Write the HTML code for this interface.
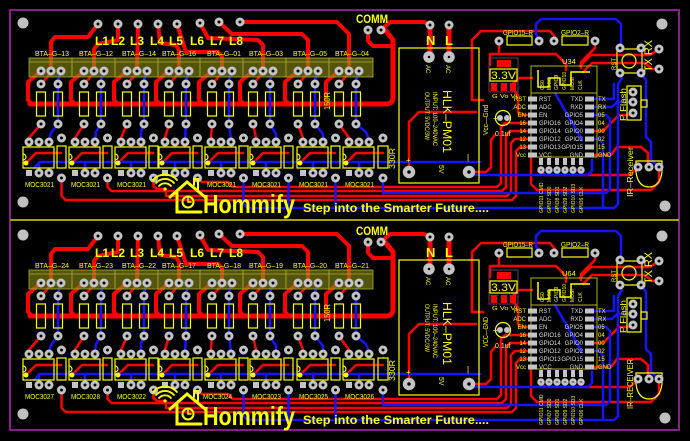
<!DOCTYPE html>
<html><head><meta charset="utf-8"><style>
html,body{margin:0;padding:0;background:#000;}
svg{display:block}
text{font-family:"Liberation Sans",sans-serif;fill:#ff0}
.p{fill:#000;stroke:#c4c4c4;stroke-width:3}
.P{fill:#000;stroke:#c4c4c4;stroke-width:4.5}
.y{fill:none;stroke:#ff0;stroke-width:1.2}
.w{fill:#ddd}
</style></head><body>
<svg width="690" height="441" viewBox="0 0 690 441" xmlns="http://www.w3.org/2000/svg">
<rect width="690" height="441" fill="#000"/>
<defs>
<g id="H">
 <!-- thick red -->
 <g fill="none" stroke="#f00" stroke-width="4" stroke-linejoin="round" stroke-linecap="round">
  <path d="M98,24 L88,37 L55,37 L51,42 L51,71"/>
  <path d="M118,24 L118,40 L98,44 L94,49 L94,71"/>
  <path d="M138,24 L137,71"/>
  <path d="M158,24 L160,43 L176,45 L179,50 L179,71"/>
  <path d="M177,24 L186,52 L218,52 L222,56 L222,71"/>
  <path d="M200,23 L208,38 L258,40 L263,45 L263,71"/>
  <path d="M219,22 L232,34 L302,34 L308,40 L308,71"/>
  <path d="M240,22 L337,22 L349,34 L349,71"/>
  <path d="M41,71 L28,82 L28,100 L32,104"/>
  <path d="M84,71 L71,82 L71,100 L75,104"/>
  <path d="M127,71 L114,82 L114,100 L118,104"/>
  <path d="M169,71 L156,82 L156,100 L160,104"/>
  <path d="M212,71 L199,82 L199,100 L203,104"/>
  <path d="M253,71 L240,82 L240,100 L244,104"/>
  <path d="M298,71 L285,82 L285,100 L289,104"/>
  <path d="M339,71 L326,82 L326,100 L330,104"/>
  <path d="M30,104 H386 Q393,104 393,97 V40 L386,31" stroke-width="5"/>
  <path d="M368,30 V41 L373,46 H393"/>
  <path d="M381,30 L390,22 H424 L430,25"/>
  <path d="M430,25 V57 M449,25 V57" stroke-width="5"/>
 </g>
 <!-- thin red -->
 <g fill="none" stroke="#f00" stroke-width="2.5" stroke-linejoin="round" stroke-linecap="round">
  <path d="M41,84 L50,74 M84,84 L93,74 M127,84 L136,74 M169,84 L178,74 M212,84 L221,74 M253,84 L262,74 M298,84 L307,74 M339,84 L348,74"/>
  <path d="M41,124 L29,138 M84,124 L75,138 M127,124 L121,138 M169,124 L165,138 M212,124 L211,138 M253,124 L256,138 M298,124 L303,138 M339,124 L349,138"/>
  <path d="M26,163 L36,153 H61 M72,163 L82,153 H107 M118,163 L128,153 H153 M162,163 L172,153 H197 M208,163 L218,153 H243 M253,163 L263,153 H288 M300,163 L310,153 H335 M346,163 L356,153 H383"/>
  <path d="M61.5,178 V196 L65.5,200 H512 L516,196 V151 L520,147 H528"/>
  <path d="M107.5,178 V187 L111.5,191 H502 L506,187 V135 L510,131 H528"/>
  <path d="M153.5,178 V186 L157,189 H166 V196 H507 L511,192 V143 L515,139 H528"/>
  <path d="M197.5,178 L202,182 H228 L233,187 H497 L501,183 V127 L505,123 H528"/>
  <path d="M469,172 H486 L491,167 V140 L495,135"/>
  <path d="M409,172 V122 L419,112 H476"/>
  <path d="M483,100 H472 V40 L481,31 H550 L555,37"/>
  <path d="M490,65 V54 H556 L566,64 V70"/>
  <path d="M499,41 V54"/>
  <path d="M595,41 V48 L581,62 V68"/>
  <path d="M513,84 L519,78 H532"/>
  <path d="M528,115 H521 L518,112 V95 L513,90"/>
  <path d="M580,66 L591,55 H650 L659,49"/>
  <path d="M583,72 L592,63 H645 L652,69 H659"/>
  <path d="M594,155 H611 L617,147 H641 L648,153 V167"/>
  <path d="M659,167 V182 L651,190 H537 L531,184 V157"/>
  <path d="M638,167 L630,175 H545 L541,171"/>
  <path d="M594,131 H603 L619,115 H632"/>
 </g>
 <!-- blue -->
 <g fill="none" stroke="#1414ff" stroke-width="2.5" stroke-linejoin="round" stroke-linecap="round">
  <path d="M61,71 L58,80 V124 L51,133 L49,140"/>
  <path d="M104,71 L101,80 V124 L96,132 L95,140"/>
  <path d="M147,71 L144,80 V124 L141,132 V140"/>
  <path d="M189,71 L186,80 V124 L185,140"/>
  <path d="M232,71 L229,80 V124 L231,140"/>
  <path d="M273,71 L270,80 V124 L276,134 V140"/>
  <path d="M318,71 L315,80 V124 L323,134 V140"/>
  <path d="M359,71 L356,80 V124 L366,132 L369,140"/>
  <path d="M34,168 L40,162 H480"/>
  <path d="M39,162 V170 M85,162 V170 M131,162 V170 M175,162 V170 M221,162 V170 M266,162 V170 M313,162 V170 M359,162 V170"/>
  <path d="M243.5,178 V204 L247.5,208 H614 L618,204 V84 L622,78"/>
  <path d="M288.5,178 V208 M335.5,178 V208"/>
  <path d="M383,178 V193"/>
  <path d="M469,172 L474,175 H588 L592,171 V160"/>
  <path d="M594,99 H614 V84"/>
  <path d="M594,107 H612 L617,102 H632"/>
  <path d="M594,115 H606 L610,119 V189 L606,193 H383"/>
  <path d="M594,139 H599 L603,143 V208"/>
  <path d="M539,41 L536,34 V24 L541,19 H616 L621,24 V44"/>
  <path d="M641,73 L646,80 V137 L651,142 V160 L659,167"/>
  <path d="M555,93 L582,140"/>
 </g>
 <!-- triac olive bodies -->
 <g fill="#8c8c14" fill-opacity="0.6" stroke="#a8a830" stroke-width="0.8">
  <rect x="29" y="58" width="43" height="19"/><rect x="72" y="58" width="43" height="19"/>
  <rect x="115" y="58" width="43" height="19"/><rect x="158" y="58" width="42" height="19"/>
  <rect x="200" y="58" width="43" height="19"/><rect x="243" y="58" width="43" height="19"/>
  <rect x="286" y="58" width="43" height="19"/><rect x="329" y="58" width="44" height="19"/>
 </g>
 <path d="M29,62 H373" stroke="#a8a830" stroke-width="0.8"/>
 <!-- yellow outlines -->
 <g class="y">
  <rect x="36.5" y="92" width="9" height="24"/><rect x="53.5" y="92" width="9" height="24"/>
  <rect x="79.5" y="92" width="9" height="24"/><rect x="96.5" y="92" width="9" height="24"/>
  <rect x="122.5" y="92" width="9" height="24"/><rect x="139.5" y="92" width="9" height="24"/>
  <rect x="164.5" y="92" width="9" height="24"/><rect x="181.5" y="92" width="9" height="24"/>
  <rect x="207.5" y="92" width="9" height="24"/><rect x="224.5" y="92" width="9" height="24"/>
  <rect x="248.5" y="92" width="9" height="24"/><rect x="265.5" y="92" width="9" height="24"/>
  <rect x="293.5" y="92" width="9" height="24"/><rect x="310.5" y="92" width="9" height="24"/>
  <rect x="334.5" y="92" width="9" height="24"/><rect x="351.5" y="92" width="9" height="24"/>
  <rect x="23" y="147" width="31" height="21"/><rect x="69" y="147" width="31" height="21"/>
  <rect x="115" y="147" width="31" height="21"/><rect x="159" y="147" width="31" height="21"/>
  <rect x="205" y="147" width="31" height="21"/><rect x="250" y="147" width="31" height="21"/>
  <rect x="297" y="147" width="31" height="21"/><rect x="343" y="147" width="31" height="21"/>
  <path d="M23,154 a3,3 0 0 1 0,6 M69,154 a3,3 0 0 1 0,6 M115,154 a3,3 0 0 1 0,6 M159,154 a3,3 0 0 1 0,6 M205,154 a3,3 0 0 1 0,6 M250,154 a3,3 0 0 1 0,6 M297,154 a3,3 0 0 1 0,6 M343,154 a3,3 0 0 1 0,6"/>
  <rect x="57" y="146" width="9" height="22"/><rect x="103" y="146" width="9" height="22"/>
  <rect x="149" y="146" width="9" height="22"/><rect x="193" y="146" width="9" height="22"/>
  <rect x="239" y="146" width="9" height="22"/><rect x="284" y="146" width="9" height="22"/>
  <rect x="331" y="146" width="9" height="22"/><rect x="378" y="146" width="10" height="22"/>
  <rect x="399" y="48" width="80" height="135"/>
  <rect x="507" y="36" width="25" height="9"/><rect x="562" y="36" width="26" height="9"/>
  <rect x="490" y="69" width="27" height="12"/>
  <circle cx="503" cy="118" r="7.5"/>
  <rect x="617" y="49" width="25" height="24"/><circle cx="629" cy="61" r="7"/>
  <rect x="627" y="86" width="14" height="34"/><rect x="641" y="100" width="6" height="7"/>
  <path d="M636,161 H662 V172 Q660,187 649,187 Q638,187 636,172 Z"/>
  <path d="M538,70 V87 H549 V78 H560 V85 H571 V72 H590" stroke-width="1.5"/>
 </g>
 <g fill="none" stroke="#b4b400" stroke-width="1">
  <rect x="531" y="66" width="66" height="91"/><path d="M531,93 H597"/>
 </g>
 <rect x="489" y="58" width="29" height="34" fill="none" stroke="#6a3a6a" stroke-width="1"/>
 <rect x="497" y="60" width="14" height="7" fill="#f00"/>
 <rect x="491" y="83" width="6" height="8" fill="#f00"/><rect x="501" y="83" width="6" height="8" fill="#f00"/><rect x="510" y="83" width="6" height="8" fill="#f00"/>
 <g fill="#ff0">
  <circle cx="26" cy="163" r="2.5"/><circle cx="72" cy="163" r="2.5"/><circle cx="118" cy="163" r="2.5"/><circle cx="162" cy="163" r="2.5"/>
  <circle cx="208" cy="163" r="2.5"/><circle cx="253" cy="163" r="2.5"/><circle cx="300" cy="163" r="2.5"/><circle cx="346" cy="163" r="2.5"/>
 </g>
 <!-- mounting holes -->
 <g fill="#c0c0c0">
  <circle cx="23" cy="23" r="5.5"/><circle cx="23" cy="202" r="5.5"/><circle cx="662" cy="24" r="5.5"/><circle cx="665" cy="206" r="5.5"/>
 </g>
 <!-- pads -->
 <g class="p">
  <circle cx="98" cy="24" r="3"/><circle cx="118" cy="24" r="3"/><circle cx="138" cy="24" r="3"/><circle cx="158" cy="24" r="3"/>
  <circle cx="177" cy="24" r="3"/><circle cx="200" cy="23" r="3"/><circle cx="219" cy="22" r="3"/><circle cx="240" cy="22" r="3"/>
  <circle cx="368" cy="30" r="3"/><circle cx="381" cy="30" r="3"/><circle cx="430" cy="25" r="3"/><circle cx="449" cy="25" r="3"/>
  <circle cx="41" cy="71" r="3"/><circle cx="51" cy="71" r="3"/><circle cx="61" cy="71" r="3"/>
  <circle cx="84" cy="71" r="3"/><circle cx="94" cy="71" r="3"/><circle cx="104" cy="71" r="3"/>
  <circle cx="127" cy="71" r="3"/><circle cx="137" cy="71" r="3"/><circle cx="147" cy="71" r="3"/>
  <circle cx="169" cy="71" r="3"/><circle cx="179" cy="71" r="3"/><circle cx="189" cy="71" r="3"/>
  <circle cx="212" cy="71" r="3"/><circle cx="222" cy="71" r="3"/><circle cx="232" cy="71" r="3"/>
  <circle cx="253" cy="71" r="3"/><circle cx="263" cy="71" r="3"/><circle cx="273" cy="71" r="3"/>
  <circle cx="298" cy="71" r="3"/><circle cx="308" cy="71" r="3"/><circle cx="318" cy="71" r="3"/>
  <circle cx="339" cy="71" r="3"/><circle cx="349" cy="71" r="3"/><circle cx="359" cy="71" r="3"/>
  <circle cx="41" cy="84" r="3"/><circle cx="58" cy="84" r="3"/><circle cx="41" cy="124" r="3"/><circle cx="58" cy="124" r="3"/>
  <circle cx="84" cy="84" r="3"/><circle cx="101" cy="84" r="3"/><circle cx="84" cy="124" r="3"/><circle cx="101" cy="124" r="3"/>
  <circle cx="127" cy="84" r="3"/><circle cx="144" cy="84" r="3"/><circle cx="127" cy="124" r="3"/><circle cx="144" cy="124" r="3"/>
  <circle cx="169" cy="84" r="3"/><circle cx="186" cy="84" r="3"/><circle cx="169" cy="124" r="3"/><circle cx="186" cy="124" r="3"/>
  <circle cx="212" cy="84" r="3"/><circle cx="229" cy="84" r="3"/><circle cx="212" cy="124" r="3"/><circle cx="229" cy="124" r="3"/>
  <circle cx="253" cy="84" r="3"/><circle cx="270" cy="84" r="3"/><circle cx="253" cy="124" r="3"/><circle cx="270" cy="124" r="3"/>
  <circle cx="298" cy="84" r="3"/><circle cx="315" cy="84" r="3"/><circle cx="298" cy="124" r="3"/><circle cx="315" cy="124" r="3"/>
  <circle cx="339" cy="84" r="3"/><circle cx="356" cy="84" r="3"/><circle cx="339" cy="124" r="3"/><circle cx="356" cy="124" r="3"/>
  <circle cx="29" cy="142" r="3"/><circle cx="39" cy="142" r="3"/><circle cx="49" cy="142" r="3"/><circle cx="39" cy="173" r="3"/><circle cx="49" cy="173" r="3"/>
  <circle cx="75" cy="142" r="3"/><circle cx="85" cy="142" r="3"/><circle cx="95" cy="142" r="3"/><circle cx="85" cy="173" r="3"/><circle cx="95" cy="173" r="3"/>
  <circle cx="121" cy="142" r="3"/><circle cx="131" cy="142" r="3"/><circle cx="141" cy="142" r="3"/><circle cx="131" cy="173" r="3"/><circle cx="141" cy="173" r="3"/>
  <circle cx="165" cy="142" r="3"/><circle cx="175" cy="142" r="3"/><circle cx="185" cy="142" r="3"/><circle cx="175" cy="173" r="3"/><circle cx="185" cy="173" r="3"/>
  <circle cx="211" cy="142" r="3"/><circle cx="221" cy="142" r="3"/><circle cx="231" cy="142" r="3"/><circle cx="221" cy="173" r="3"/><circle cx="231" cy="173" r="3"/>
  <circle cx="256" cy="142" r="3"/><circle cx="266" cy="142" r="3"/><circle cx="276" cy="142" r="3"/><circle cx="266" cy="173" r="3"/><circle cx="276" cy="173" r="3"/>
  <circle cx="303" cy="142" r="3"/><circle cx="313" cy="142" r="3"/><circle cx="323" cy="142" r="3"/><circle cx="313" cy="173" r="3"/><circle cx="323" cy="173" r="3"/>
  <circle cx="349" cy="142" r="3"/><circle cx="359" cy="142" r="3"/><circle cx="369" cy="142" r="3"/><circle cx="359" cy="173" r="3"/><circle cx="369" cy="173" r="3"/>
  <circle cx="61.5" cy="138" r="3"/><circle cx="61.5" cy="178" r="3"/><circle cx="107.5" cy="138" r="3"/><circle cx="107.5" cy="178" r="3"/>
  <circle cx="153.5" cy="138" r="3"/><circle cx="153.5" cy="178" r="3"/><circle cx="197.5" cy="138" r="3"/><circle cx="197.5" cy="178" r="3"/>
  <circle cx="243.5" cy="138" r="3"/><circle cx="243.5" cy="178" r="3"/><circle cx="288.5" cy="138" r="3"/><circle cx="288.5" cy="178" r="3"/>
  <circle cx="335.5" cy="138" r="3"/><circle cx="335.5" cy="178" r="3"/><circle cx="383" cy="138" r="3"/><circle cx="383" cy="178" r="3"/>
  <circle cx="499" cy="41" r="3"/><circle cx="539" cy="41" r="3"/><circle cx="554" cy="41" r="3"/><circle cx="595" cy="41" r="3"/>
  <circle cx="620" cy="48" r="3"/><circle cx="641" cy="48" r="3"/><circle cx="620" cy="73" r="3"/><circle cx="641" cy="73" r="3"/>
  <circle cx="659" cy="49" r="3"/><circle cx="659" cy="69" r="3"/>
  <circle cx="633" cy="92" r="3"/><circle cx="633" cy="102" r="3"/><circle cx="633" cy="113" r="3"/>
  <circle cx="638" cy="167" r="3"/><circle cx="649" cy="167" r="3"/><circle cx="659" cy="167" r="3"/>
  <circle cx="541" cy="170" r="2.2"/><circle cx="549" cy="170" r="2.2"/><circle cx="557" cy="170" r="2.2"/><circle cx="565" cy="170" r="2.2"/><circle cx="573" cy="170" r="2.2"/><circle cx="581" cy="170" r="2.2"/>
  <circle cx="500" cy="118" r="1.5"/><circle cx="507" cy="118" r="1.5"/>
 </g>
 <g class="P">
  <circle cx="429" cy="57" r="3.5"/><circle cx="449" cy="57" r="3.5"/><circle cx="409" cy="172" r="4"/><circle cx="469" cy="172" r="4"/>
 </g>
 <g fill="#c4c4c4">
  <rect x="26" y="170" width="6" height="6"/><rect x="72" y="170" width="6" height="6"/><rect x="118" y="170" width="6" height="6"/><rect x="162" y="170" width="6" height="6"/>
  <rect x="208" y="170" width="6" height="6"/><rect x="253" y="170" width="6" height="6"/><rect x="300" y="170" width="6" height="6"/><rect x="346" y="170" width="6" height="6"/>
  <rect x="528" y="96.5" width="9" height="5"/><rect x="528" y="104.5" width="9" height="5"/><rect x="528" y="112.5" width="9" height="5"/><rect x="528" y="120.5" width="9" height="5"/>
  <rect x="528" y="128.5" width="9" height="5"/><rect x="528" y="136.5" width="9" height="5"/><rect x="528" y="144.5" width="9" height="5"/><rect x="528" y="152.5" width="9" height="5"/>
  <rect x="585" y="96.5" width="9" height="5"/><rect x="585" y="104.5" width="9" height="5"/><rect x="585" y="112.5" width="9" height="5"/><rect x="585" y="120.5" width="9" height="5"/>
  <rect x="585" y="128.5" width="9" height="5"/><rect x="585" y="136.5" width="9" height="5"/><rect x="585" y="144.5" width="9" height="5"/><rect x="585" y="152.5" width="9" height="5"/>
  <rect x="539" y="158" width="4" height="7"/><rect x="547" y="158" width="4" height="7"/><rect x="555" y="158" width="4" height="7"/>
  <rect x="563" y="158" width="4" height="7"/><rect x="571" y="158" width="4" height="7"/><rect x="579" y="158" width="4" height="7"/>
 </g>
 <!-- logo -->
 <g fill="none" stroke="#ff0" stroke-linecap="round">
  <path d="M159,186 A8,8 0 0 1 171,186 M156,183 A12,12 0 0 1 174,183 M153,180 A16,16 0 0 1 177,180" stroke-width="1.8"/>
  <path d="M170,197 L187,182 L205,197" stroke-width="3"/>
  <path d="M177,193 V212 H201" stroke-width="3"/>
  <path d="M194,185 V179 H198 V189" stroke-width="2"/>
  <circle cx="188" cy="202" r="5.5" stroke-width="2"/>
  <path d="M188,198 V202 H191" stroke-width="1.5"/>
 </g>
 <circle cx="165" cy="189" r="1.6" fill="#ff0"/>
</g>
</defs>

<use href="#H"/>
<use href="#H" transform="translate(0,212)"/>

<!-- border & divider -->
<rect x="10" y="10" width="669" height="420" fill="none" stroke="#8b1c8b" stroke-width="2"/>
<path d="M10,220 H679" stroke="#a0a000" stroke-width="2"/>

<!-- TOP TEXT -->
<g>
 <text x="356" y="23" font-size="12" font-weight="bold" textLength="32" lengthAdjust="spacingAndGlyphs">COMM</text>
 <g font-size="12" font-weight="bold">
  <text x="95" y="45">L1</text><text x="111" y="45">L2</text><text x="130" y="45">L3</text><text x="150" y="45">L4</text>
  <text x="169" y="45">L5</text><text x="190" y="45">L6</text><text x="210" y="45">L7</text><text x="229" y="45">L8</text>
 </g>
 <g font-size="7" fill="#e8e800">
  <text x="35" y="56" textLength="34" lengthAdjust="spacingAndGlyphs">BTA–G–13</text>
  <text x="79" y="56" textLength="34" lengthAdjust="spacingAndGlyphs">BTA–G–12</text>
  <text x="122" y="56" textLength="34" lengthAdjust="spacingAndGlyphs">BTA–G–14</text>
  <text x="162" y="56" textLength="34" lengthAdjust="spacingAndGlyphs">BTA–G–16</text>
  <text x="207" y="56" textLength="34" lengthAdjust="spacingAndGlyphs">BTA–G–01</text>
  <text x="249" y="56" textLength="34" lengthAdjust="spacingAndGlyphs">BTA–G–03</text>
  <text x="293" y="56" textLength="34" lengthAdjust="spacingAndGlyphs">BTA–G–05</text>
  <text x="335" y="56" textLength="34" lengthAdjust="spacingAndGlyphs">BTA–G–04</text>
 </g>
 <g font-size="7">
  <text x="25" y="187" textLength="29" lengthAdjust="spacingAndGlyphs">MOC3021</text>
  <text x="71" y="187" textLength="29" lengthAdjust="spacingAndGlyphs">MOC3021</text>
  <text x="117" y="187" textLength="29" lengthAdjust="spacingAndGlyphs">MOC3021</text>
  <text x="207" y="187" textLength="29" lengthAdjust="spacingAndGlyphs">MOC3021</text>
  <text x="252" y="187" textLength="29" lengthAdjust="spacingAndGlyphs">MOC3021</text>
  <text x="299" y="187" textLength="29" lengthAdjust="spacingAndGlyphs">MOC3021</text>
  <text x="345" y="187" textLength="29" lengthAdjust="spacingAndGlyphs">MOC3021</text>
 </g>
 <text font-size="8" transform="translate(330,110) rotate(-90)" textLength="18" lengthAdjust="spacingAndGlyphs">150R</text>
 <text font-size="8" transform="translate(395,169) rotate(-90)" textLength="21" lengthAdjust="spacingAndGlyphs">330R</text>
 <text x="426" y="45" font-size="13" font-weight="bold">N</text>
 <text x="445" y="45" font-size="13" font-weight="bold">L</text>
 <text font-size="6" transform="translate(426,65) rotate(90)">AC</text>
 <text font-size="6" transform="translate(446,65) rotate(90)">AC</text>
 <text font-size="12" transform="translate(443,90) rotate(90)" textLength="63" lengthAdjust="spacingAndGlyphs">HLK–PM01</text>
 <text font-size="6" transform="translate(433,92) rotate(90)" textLength="54" lengthAdjust="spacingAndGlyphs">INPUT: 100–240VAC</text>
 <text font-size="6" transform="translate(425,92) rotate(90)" textLength="48" lengthAdjust="spacingAndGlyphs">OUTPUT: 5VDC/3W</text>
 <text font-size="7" transform="translate(439,165) rotate(90)">5V</text>
 <text x="406" y="163" font-size="8">+</text>
 <text x="467" y="160" font-size="8">|</text>
 <text x="503" y="35" font-size="7" textLength="30" lengthAdjust="spacingAndGlyphs">GPIO15–R</text>
 <text x="561" y="35" font-size="7" textLength="28" lengthAdjust="spacingAndGlyphs">GPIO2–R</text>
 <text x="491" y="79" font-size="11" textLength="25" lengthAdjust="spacingAndGlyphs">3.3V</text>
 <text x="492" y="98" font-size="5.5" textLength="25" lengthAdjust="spacingAndGlyphs">G Vo Vi</text>
 <text x="493" y="121" font-size="8">+</text>
 <text x="495" y="136" font-size="7">0.1uf</text>
 <text font-size="7" transform="translate(488,135) rotate(-90)" textLength="30" lengthAdjust="spacingAndGlyphs">Vcc—Gnd</text>
 <text x="562" y="64" font-size="7.5">U34</text>
 <g font-size="5">
  <text transform="translate(544,90) rotate(-90)">CS0</text><text transform="translate(551,90) rotate(-90)">MISO</text>
  <text transform="translate(558,90) rotate(-90)">GPIO9</text><text transform="translate(566,90) rotate(-90)">GPIO10</text>
  <text transform="translate(574,90) rotate(-90)">MOSI</text><text transform="translate(582,90) rotate(-90)">CLK</text>
  <text transform="translate(543,213) rotate(-90)">GPIO11 CMD</text><text transform="translate(551,213) rotate(-90)">GPIO7 SD0</text>
  <text transform="translate(559,213) rotate(-90)">GPIO8 SD1</text><text transform="translate(567,213) rotate(-90)">GPIO9 SD2</text>
  <text transform="translate(575,213) rotate(-90)">GPIO10 SD3</text><text transform="translate(583,213) rotate(-90)">GPIO6 CLK</text>
 </g>
 <g font-size="6">
  <text class="w" x="539" y="101">RST</text><text class="w" x="539" y="109">ADC</text><text class="w" x="539" y="117">EN</text><text class="w" x="539" y="125">GPIO16</text>
  <text class="w" x="539" y="133">GPIO14</text><text class="w" x="539" y="141">GPIO12</text><text class="w" x="539" y="149">GPIO13</text><text class="w" x="539" y="157">VCC</text>
 </g>
 <g font-size="6" text-anchor="end">
  <text class="w" x="583" y="101">TXD</text><text class="w" x="583" y="109">RXD</text><text class="w" x="583" y="117">GPIO5</text><text class="w" x="583" y="125">GPIO4</text>
  <text class="w" x="583" y="133">GPIO0</text><text class="w" x="583" y="141">GPIO2</text><text class="w" x="583" y="149">GPIO15</text><text class="w" x="583" y="157">GND</text>
  <text x="526" y="101">RST</text><text x="526" y="109">ADC</text><text x="526" y="117">EN</text><text x="526" y="125">16</text>
  <text x="526" y="133">14</text><text x="526" y="141">12</text><text x="526" y="149">13</text><text x="526" y="157">Vcc</text>
 </g>
 <g font-size="6">
  <text x="598" y="101">TX</text><text x="598" y="109">RX</text><text x="598" y="117">05</text><text x="598" y="125">04</text>
  <text x="598" y="133">00</text><text x="598" y="141">02</text><text x="598" y="149">15</text><text x="598" y="157">GND</text>
 </g>
 <text font-size="6" transform="translate(616,70) rotate(-90)">RST</text>
 <text font-size="11" transform="translate(652,72) rotate(-90)" textLength="32" lengthAdjust="spacingAndGlyphs">TX RX</text>
 <text font-size="8" transform="translate(626,121) rotate(-90)" textLength="33" lengthAdjust="spacingAndGlyphs">P Flash</text>
 <text font-size="8" transform="translate(633,197) rotate(-90)" textLength="50" lengthAdjust="spacingAndGlyphs">IR–Receiver</text>
 <text x="203" y="213" font-size="26" font-weight="bold" textLength="92" lengthAdjust="spacingAndGlyphs">Hommify</text>
 <text x="303" y="212" font-size="12" font-weight="bold" textLength="186" lengthAdjust="spacingAndGlyphs">Step into the Smarter Future....</text>
</g>

<!-- BOTTOM TEXT -->
<g transform="translate(0,212)">
 <text x="356" y="23" font-size="12" font-weight="bold" textLength="32" lengthAdjust="spacingAndGlyphs">COMM</text>
 <g font-size="12" font-weight="bold">
  <text x="95" y="45">L1</text><text x="111" y="45">L2</text><text x="130" y="45">L3</text><text x="150" y="45">L4</text>
  <text x="169" y="45">L5</text><text x="190" y="45">L6</text><text x="210" y="45">L7</text><text x="229" y="45">L8</text>
 </g>
 <g font-size="7" fill="#e8e800">
  <text x="35" y="56" textLength="34" lengthAdjust="spacingAndGlyphs">BTA–G–24</text>
  <text x="79" y="56" textLength="34" lengthAdjust="spacingAndGlyphs">BTA–G–23</text>
  <text x="122" y="56" textLength="34" lengthAdjust="spacingAndGlyphs">BTA–G–22</text>
  <text x="162" y="56" textLength="34" lengthAdjust="spacingAndGlyphs">BTA–G–17</text>
  <text x="207" y="56" textLength="34" lengthAdjust="spacingAndGlyphs">BTA–G–18</text>
  <text x="249" y="56" textLength="34" lengthAdjust="spacingAndGlyphs">BTA–G–19</text>
  <text x="293" y="56" textLength="34" lengthAdjust="spacingAndGlyphs">BTA–G–20</text>
  <text x="335" y="56" textLength="34" lengthAdjust="spacingAndGlyphs">BTA–G–21</text>
 </g>
 <g font-size="7">
  <text x="25" y="187" textLength="29" lengthAdjust="spacingAndGlyphs">MOC3027</text>
  <text x="71" y="187" textLength="29" lengthAdjust="spacingAndGlyphs">MOC3028</text>
  <text x="117" y="187" textLength="29" lengthAdjust="spacingAndGlyphs">MOC3022</text>
  <text x="203" y="187" textLength="29" lengthAdjust="spacingAndGlyphs">MOC3024</text>
  <text x="252" y="187" textLength="29" lengthAdjust="spacingAndGlyphs">MOC3023</text>
  <text x="299" y="187" textLength="29" lengthAdjust="spacingAndGlyphs">MOC3025</text>
  <text x="345" y="187" textLength="29" lengthAdjust="spacingAndGlyphs">MOC3026</text>
 </g>
 <text font-size="8" transform="translate(330,110) rotate(-90)" textLength="18" lengthAdjust="spacingAndGlyphs">150R</text>
 <text font-size="8" transform="translate(395,169) rotate(-90)" textLength="21" lengthAdjust="spacingAndGlyphs">330R</text>
 <text x="426" y="45" font-size="13" font-weight="bold">N</text>
 <text x="445" y="45" font-size="13" font-weight="bold">L</text>
 <text font-size="6" transform="translate(426,65) rotate(90)">AC</text>
 <text font-size="6" transform="translate(446,65) rotate(90)">AC</text>
 <text font-size="12" transform="translate(443,90) rotate(90)" textLength="63" lengthAdjust="spacingAndGlyphs">HLK–PM01</text>
 <text font-size="6" transform="translate(433,92) rotate(90)" textLength="54" lengthAdjust="spacingAndGlyphs">INPUT: 100–240VAC</text>
 <text font-size="6" transform="translate(425,92) rotate(90)" textLength="48" lengthAdjust="spacingAndGlyphs">OUTPUT: 5VDC/3W</text>
 <text font-size="7" transform="translate(439,165) rotate(90)">5V</text>
 <text x="406" y="163" font-size="8">+</text>
 <text x="467" y="160" font-size="8">|</text>
 <text x="503" y="35" font-size="7" textLength="30" lengthAdjust="spacingAndGlyphs">GPIO15–R</text>
 <text x="561" y="35" font-size="7" textLength="28" lengthAdjust="spacingAndGlyphs">GPIO2–R</text>
 <text x="491" y="79" font-size="11" textLength="25" lengthAdjust="spacingAndGlyphs">3.3V</text>
 <text x="492" y="98" font-size="5.5" textLength="25" lengthAdjust="spacingAndGlyphs">G Vo Vi</text>
 <text x="493" y="121" font-size="8">+</text>
 <text x="495" y="136" font-size="7">0.1uf</text>
 <text font-size="7" transform="translate(488,135) rotate(-90)" textLength="30" lengthAdjust="spacingAndGlyphs">VCC—GND</text>
 <text x="562" y="64" font-size="7.5">U64</text>
 <g font-size="5">
  <text transform="translate(544,90) rotate(-90)">CS0</text><text transform="translate(551,90) rotate(-90)">MISO</text>
  <text transform="translate(558,90) rotate(-90)">GPIO9</text><text transform="translate(566,90) rotate(-90)">GPIO10</text>
  <text transform="translate(574,90) rotate(-90)">MOSI</text><text transform="translate(582,90) rotate(-90)">CLK</text>
  <text transform="translate(543,213) rotate(-90)">GPIO11 CMD</text><text transform="translate(551,213) rotate(-90)">GPIO7 SD0</text>
  <text transform="translate(559,213) rotate(-90)">GPIO8 SD1</text><text transform="translate(567,213) rotate(-90)">GPIO9 SD2</text>
  <text transform="translate(575,213) rotate(-90)">GPIO10 SD3</text><text transform="translate(583,213) rotate(-90)">GPIO6 CLK</text>
 </g>
 <g font-size="6">
  <text class="w" x="539" y="101">RST</text><text class="w" x="539" y="109">ADC</text><text class="w" x="539" y="117">EN</text><text class="w" x="539" y="125">GPIO16</text>
  <text class="w" x="539" y="133">GPIO14</text><text class="w" x="539" y="141">GPIO12</text><text class="w" x="539" y="149">GPIO13</text><text class="w" x="539" y="157">VCC</text>
 </g>
 <g font-size="6" text-anchor="end">
  <text class="w" x="583" y="101">TXD</text><text class="w" x="583" y="109">RXD</text><text class="w" x="583" y="117">GPIO5</text><text class="w" x="583" y="125">GPIO4</text>
  <text class="w" x="583" y="133">GPIO0</text><text class="w" x="583" y="141">GPIO2</text><text class="w" x="583" y="149">GPIO15</text><text class="w" x="583" y="157">GND</text>
  <text x="526" y="101">RST</text><text x="526" y="109">ADC</text><text x="526" y="117">EN</text><text x="526" y="125">16</text>
  <text x="526" y="133">14</text><text x="526" y="141">12</text><text x="526" y="149">13</text><text x="526" y="157">Vcc</text>
 </g>
 <g font-size="6">
  <text x="598" y="101">TX</text><text x="598" y="109">RX</text><text x="598" y="117">05</text><text x="598" y="125">04</text>
  <text x="598" y="133">00</text><text x="598" y="141">02</text><text x="598" y="149">15</text><text x="598" y="157">GND</text>
 </g>
 <text font-size="6" transform="translate(616,70) rotate(-90)">RST</text>
 <text font-size="11" transform="translate(652,72) rotate(-90)" textLength="32" lengthAdjust="spacingAndGlyphs">TX RX</text>
 <text font-size="8" transform="translate(626,121) rotate(-90)" textLength="33" lengthAdjust="spacingAndGlyphs">P Flash</text>
 <text font-size="8" transform="translate(633,197) rotate(-90)" textLength="50" lengthAdjust="spacingAndGlyphs">IR–RECEIVER</text>
 <text x="203" y="213" font-size="26" font-weight="bold" textLength="92" lengthAdjust="spacingAndGlyphs">Hommify</text>
 <text x="303" y="212" font-size="12" font-weight="bold" textLength="186" lengthAdjust="spacingAndGlyphs">Step into the Smarter Future....</text>
</g>
</svg>
</body></html>
